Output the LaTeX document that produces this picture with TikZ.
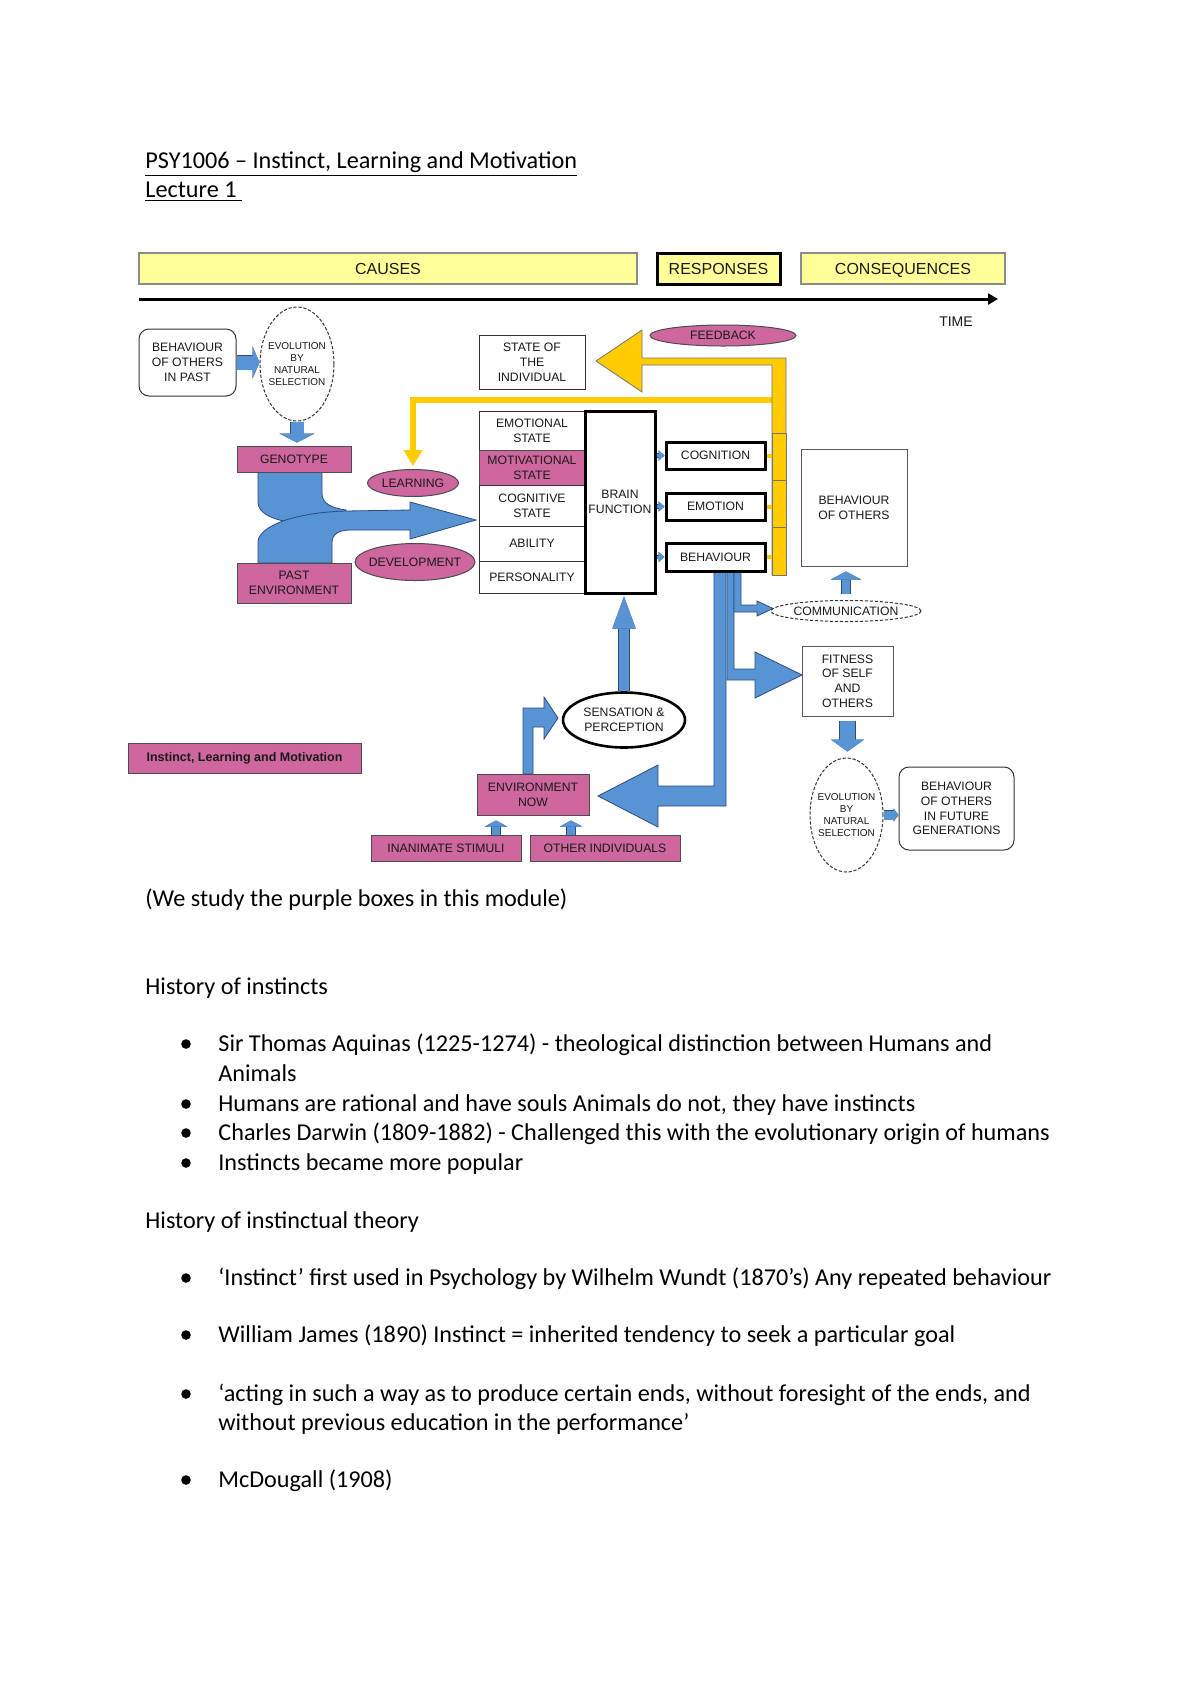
\documentclass[tikz,border=0pt]{standalone}
\usepackage{fontspec}
\setmainfont{Carlito}
\newfontfamily\arialf{Liberation Sans}
\usetikzlibrary{shapes.geometric,arrows.meta,calc}
\definecolor{ylight}{RGB}{255,255,153}
\definecolor{pinkb}{RGB}{205,103,158}
\definecolor{ablue}{RGB}{88,148,212}
\definecolor{aedge}{RGB}{45,75,125}
\definecolor{ygold}{RGB}{255,204,0}
\tikzset{
  lab/.style={font=\arialf\fontsize{6.1}{7.4}\selectfont, align=center, inner sep=0pt, text=black!90},
  wbox/.style={lab, rectangle, draw=black!80, line width=0.5pt, fill=white},
  tbox/.style={wbox, line width=1.5pt, draw=black},
  pbox/.style={lab, rectangle, draw=black!70, line width=0.5pt, fill=pinkb},
  pell/.style={lab, ellipse, draw=black!70, line width=0.5pt, fill=pinkb},
  dell/.style={lab, ellipse, draw=black!80, line width=0.5pt, dash pattern=on 1.6pt off 0.9pt, fill=white},
  evotext/.style={font=\arialf\fontsize{5}{6.1}\selectfont},
  hdr/.style={lab, rectangle, draw=black!45, line width=0.6pt, fill=ylight, font=\arialf\fontsize{8}{9.6}\selectfont, text height=5.8pt, text depth=0pt},
  bodytxt/.style={anchor=base west, inner sep=0pt, font=\fontsize{12.1}{14.5}\selectfont},
  blkshape/.style={fill=ablue, draw=aedge, line width=0.4pt, line join=miter},
  blk/.style n args={3}{draw=ablue, line width=#1, -{Triangle[width=#2,length=#3,line width=0.01pt]},
     preaction={draw=aedge, line width=#1+0.8pt, -{Triangle[width=#2,length=#3,line width=0.8pt]}}},
  ysg/.style={fill=ygold, draw=black!55, line width=0.4pt},
}
\begin{document}
\begin{tikzpicture}[x=0.5pt,y=-0.5pt]
\fill[white] (0,0) rectangle (1200,1698);
\useasboundingbox (0,0) rectangle (1200,1698);

% ---- heading text
\node[bodytxt] (title) at (145,168) {\underline{PSY1006 -- Instinct, Learning and Motivation}};
\node[bodytxt] (lect) at (145,197) {\underline{Lecture 1\ }};

% ---- top bar
\node[hdr, minimum width=249pt, minimum height=15.5pt] (causes) at (388,268.5) {CAUSES};
\node[hdr, minimum width=61.5pt, minimum height=15.5pt, line width=1.5pt, draw=black] (responses) at (718.5,268.5) {RESPONSES};
\node[hdr, minimum width=102pt, minimum height=15.5pt] (conseq) at (903,268.5) {CONSEQUENCES};
\coordinate (t0) at (139,299);
\coordinate (t1) at (998,299);
\draw[line width=1.5pt, -{Triangle[width=5.5pt,length=5pt]}] (t0) -- (t1);
\node[lab, font=\arialf\fontsize{7}{8}\selectfont] (timelbl) at (956,322) {TIME};

% ---- coordinates
\coordinate (yl) at (772,0);
\coordinate (yj) at (772,400);
\coordinate (ia) at (496,0);
\coordinate (ib) at (571,0);

% ---- yellow feedback structure
\draw[ygold, line width=3pt, -{Triangle[width=9pt,length=8pt]}, shorten >=2pt] (yj) -| (413,470);
\filldraw[ysg] (786,575) -- (786,358) -- (642,358) -- (642,330) -- (596,361) -- (642,392) -- (642,365) -- (772,365) -- (772,575) -- cycle;
\filldraw[ysg] (772,433) rectangle (786,480);
\filldraw[ysg] (772,480) rectangle (786,527);
\filldraw[ysg] (772,527) rectangle (786,575);

% ---- blue shapes (merging arrow)
\filldraw[blkshape] (258,472) -- (258,503) .. controls (259,512) and (268,518) .. (288,522) -- (340,522) -- (346,510) .. controls (331,508) and (322,503) .. (322,494) -- (322,472) -- cycle;
\filldraw[blkshape] (258,563) -- (258,541) .. controls (260,527) and (290,513) .. (345,511) -- (410,510) -- (410,502) -- (476,520) -- (410,539) -- (410,530) -- (350,530) .. controls (339,530) and (332,534) .. (332,543) -- (332,563) -- cycle;

% ---- blue L arrows from behaviour
\filldraw[blkshape] (714,571) -- (714,786) -- (658,786) -- (658,765) -- (598,796) -- (658,827) -- (658,806) -- (726,806) -- (726,571) -- cycle;
\filldraw[blkshape] (727,571) -- (727,680) -- (755,680) -- (755,698) -- (802,675) -- (755,652) -- (755,669) -- (734,669) -- (734,571) -- cycle;
\filldraw[blkshape] (734,571) -- (734,612) -- (757,612) -- (757,616) -- (773,608.5) -- (757,601) -- (757,605) -- (741,605) -- (741,571) -- cycle;
% env -> sensation
\filldraw[blkshape] (523,774) -- (523,708) -- (544,708) -- (544,697) -- (558,718) -- (544,739) -- (544,727) -- (533,727) -- (533,774) -- cycle;

% ---- left nodes
\node[wbox, rounded corners=5pt, minimum width=48.5pt, minimum height=33.5pt] (pastbeh) at (187.5,362.5) {BEHAVIOUR\\OF OTHERS\\IN PAST};
\node[dell, evotext, inner xsep=-2pt, minimum width=37pt, minimum height=57pt] (evo1) at (297,364) {EVOLUTION\\BY\\NATURAL\\SELECTION};
\node[pbox, minimum width=57pt, minimum height=13pt] (geno) at (294,459) {GENOTYPE};
\node[pbox, minimum width=57pt, minimum height=20pt] (pastenv) at (294,583) {PAST\\ENVIRONMENT};
\node[pell, minimum width=45.5pt, minimum height=13.5pt] (learning) at (413,483) {LEARNING};
\node[pell, inner xsep=-4pt, minimum width=60pt, minimum height=18.5pt] (develop) at (415,562) {DEVELOPMENT};

% ---- centre nodes
\node[wbox, minimum width=53pt, minimum height=27pt] (stateind) at (532,362) {STATE OF\\THE\\INDIVIDUAL};
\node[pell, minimum width=73pt, minimum height=10.5pt] (feedback) at (723,335.5) {FEEDBACK};
\node[wbox, minimum width=53pt, minimum height=19.5pt] (emo) at (532,430.5) {EMOTIONAL\\STATE};
\node[pbox, minimum width=53pt, minimum height=17.5pt] (mot) at (532,467.5) {MOTIVATIONAL\\STATE};
\node[wbox, minimum width=53pt, minimum height=20.5pt] (cogst) at (532,505.5) {COGNITIVE\\STATE};
\node[wbox, minimum width=53pt, minimum height=17.5pt] (abil) at (532,543.5) {ABILITY};
\node[wbox, minimum width=53pt, minimum height=16pt] (pers) at (532,577) {PERSONALITY};
\node[tbox, minimum width=35pt, minimum height=91pt] (brain) at (620,502) {BRAIN\\FUNCTION};
\node[tbox, minimum width=49.5pt, minimum height=13.5pt] (cog) at (715.5,455.5) {COGNITION};
\node[tbox, minimum width=49.5pt, minimum height=13.5pt] (emot) at (715.5,506.5) {EMOTION};
\node[tbox, minimum width=49.5pt, minimum height=14pt] (behav) at (715.5,557) {BEHAVIOUR};

\draw[ygold, line width=2pt] (cog.east) -- (cog.east -| yl);
\draw[ygold, line width=2pt] (emot.east) -- (emot.east -| yl);
\draw[ygold, line width=2pt] (behav.east) -- (behav.east -| yl);

\draw[blk={1.5pt}{5pt}{3pt}] (brain.east |- cog.west) -- (cog.west);
\draw[blk={1.5pt}{5pt}{3pt}] (brain.east |- emot.west) -- (emot.west);
\draw[blk={1.5pt}{5pt}{3pt}] (brain.east |- behav.west) -- (behav.west);

\node[dell, ellipse, inner xsep=-2pt, minimum width=61pt, minimum height=27.5pt, line width=1.3pt, draw=black, solid] (sp) at (624,720) {SENSATION \&\\PERCEPTION};
\draw[blk={5pt}{11.5pt}{16pt}, shorten >=1pt] (sp.north) -- (sp.north |- brain.south);

\node[pbox, minimum width=56pt, minimum height=20.5pt] (envnow) at (533,794.5) {ENVIRONMENT\\NOW};
\node[pbox, minimum width=75pt, minimum height=13pt] (inanim) at (446,848) {INANIMATE STIMULI};
\node[pbox, minimum width=75pt, minimum height=13pt] (otherind) at (605,848) {OTHER INDIVIDUALS};
\draw[blk={4pt}{11pt}{3pt}, shorten >=2.5pt] (inanim.north -| ia) -- (envnow.south -| ia);
\draw[blk={4pt}{11pt}{3pt}, shorten >=2.5pt] (otherind.north -| ib) -- (envnow.south -| ib);

\node[pbox, minimum width=116.5pt, minimum height=15pt, font=\arialf\bfseries\fontsize{6.25}{7.5}\selectfont] (ilm) at (244.5,758) {Instinct, Learning and Motivation};

% ---- right nodes
\node[wbox, draw=black!65, minimum width=53pt, minimum height=58.5pt] (others) at (854,507.5) {BEHAVIOUR\\OF OTHERS};
\node[dell, inner xsep=-2pt, minimum width=75pt, minimum height=10.5pt] (comm) at (846,611) {COMMUNICATION};
\node[wbox, draw=black!65, minimum width=45.5pt, minimum height=35pt] (fitness) at (847.5,681) {FITNESS\\OF SELF\\AND\\OTHERS};
\node[dell, evotext, inner xsep=-2pt, minimum width=36.5pt, minimum height=57pt] (evo2) at (846.5,815) {EVOLUTION\\BY\\NATURAL\\SELECTION};
\node[wbox, rounded corners=5pt, minimum width=57.5pt, minimum height=41.5pt] (future) at (956.5,808.5) {BEHAVIOUR\\OF OTHERS\\IN FUTURE\\GENERATIONS};

\draw[blk={7pt}{16pt}{3.5pt}] (pastbeh.east) -- (pastbeh.east -| evo1.west);
\draw[blk={6.5pt}{17.5pt}{4.5pt}, shorten >=1.5pt] (evo1.south) -- (evo1.south |- geno.north);
\draw[blk={4pt}{15pt}{4pt}, shorten <=3pt, shorten >=2.5pt] (comm.north) -- (comm.north |- others.south);
\draw[blk={7.5pt}{16.5pt}{6pt}, shorten <=2pt, shorten >=3pt] (fitness.south) -- (fitness.south |- evo2.north);
\draw[blk={4.5pt}{6.5pt}{2.5pt}] (evo2.east) -- (evo2.east -| future.west);

% ---- body text
\node[bodytxt] (note) at (145,906) {(We study the purple boxes in this module)};
\node[bodytxt] (h1) at (145,994) {History of instincts};
\foreach \yy in {1051,1111,1140,1170,1285,1342,1401,1487} \fill (186,\yy-7) circle[radius=2.4pt];
\node[bodytxt] (b1) at (218,1051) {Sir Thomas Aquinas (1225-1274) - theological distinction between Humans and};
\node[bodytxt] (b1b) at (218,1081) {Animals};
\node[bodytxt] (b2) at (218,1111) {Humans are rational and have souls Animals do not, they have instincts};
\node[bodytxt] (b3) at (218,1140) {Charles Darwin (1809-1882) - Challenged this with the evolutionary origin of humans};
\node[bodytxt] (b4) at (218,1170) {Instincts became more popular};
\node[bodytxt] (h2) at (145,1228) {History of instinctual theory};
\node[bodytxt] (c1) at (218,1285) {‘Instinct’ first used in Psychology by Wilhelm Wundt (1870’s) Any repeated behaviour};
\node[bodytxt] (c2) at (218,1342) {William James (1890) Instinct = inherited tendency to seek a particular goal};
\node[bodytxt] (c3) at (218,1401) {‘acting in such a way as to produce certain ends, without foresight of the ends, and};
\node[bodytxt] (c3b) at (218,1430) {without previous education in the performance’};
\node[bodytxt] (c4) at (218,1487) {McDougall (1908)};
\end{tikzpicture}
\end{document}
